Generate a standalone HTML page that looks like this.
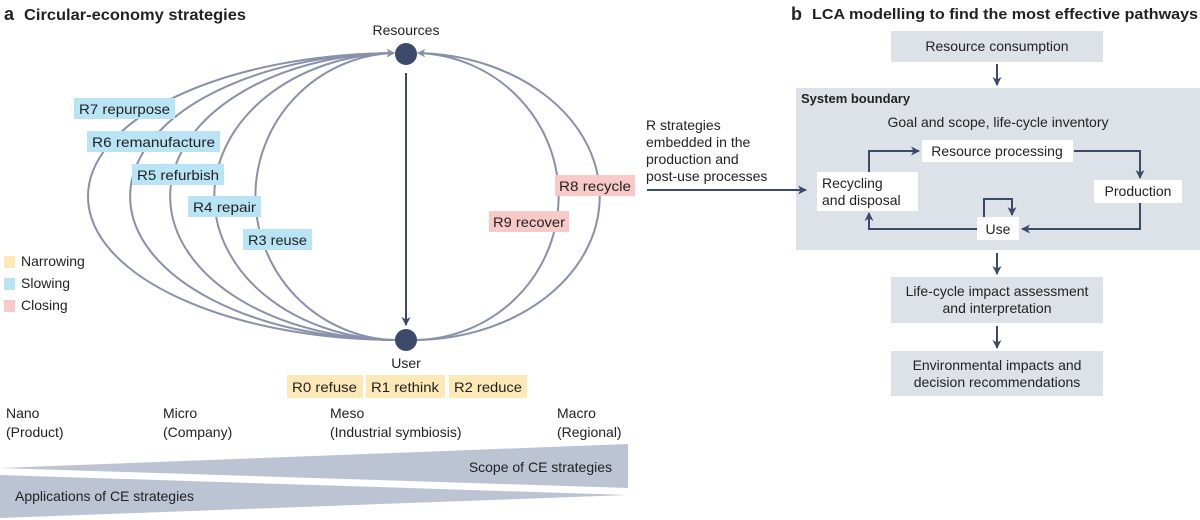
<!DOCTYPE html>
<html><head><meta charset="utf-8"><style>
body{margin:0;background:#fff;}
svg{display:block;font-family:"Liberation Sans",sans-serif;}
</style></head><body>
<svg width="1200" height="520" viewBox="0 0 1200 520" xmlns="http://www.w3.org/2000/svg">
<defs>
<marker id="ag" markerWidth="8" markerHeight="8" refX="7" refY="4" orient="auto" markerUnits="userSpaceOnUse"><path d="M0,0 L8,4 L0,8 L2,4z" fill="#8890aa"/></marker>
<marker id="ad" markerWidth="9" markerHeight="9" refX="8" refY="4.5" orient="auto" markerUnits="userSpaceOnUse"><path d="M0,0 L9,4.5 L0,9 L2.5,4.5z" fill="#3b4a6b"/></marker>
</defs>
<text x="4" y="20" font-size="18" font-weight="bold" fill="#222">a</text>
<text x="24" y="20" font-size="16" font-weight="bold" fill="#222" textLength="222" lengthAdjust="spacingAndGlyphs">Circular-economy strategies</text>
<g fill="none" stroke="#8890aa" stroke-width="2">
<path d="M404,340 A310,143 0 0 1 394,53" marker-end="url(#ag)"/>
<path d="M404,340 A268,143 0 0 1 394,53" marker-end="url(#ag)"/>
<path d="M404,340 A228,143 0 0 1 394,53" marker-end="url(#ag)"/>
<path d="M404,340 A184,143 0 0 1 394,53" marker-end="url(#ag)"/>
<path d="M404,340 A143,143 0 0 1 394,53" marker-end="url(#ag)"/>
<path d="M408,340 A145,143 0 0 0 418,53" marker-end="url(#ag)"/>
<path d="M408,340 A186,143 0 0 0 418,53" marker-end="url(#ag)"/>
</g>
<line x1="406" y1="73" x2="406" y2="325" stroke="#3b4a6b" stroke-width="2" marker-end="url(#ad)"/>
<circle cx="406" cy="54" r="11" fill="#3b4a6b"/>
<circle cx="406" cy="340" r="11" fill="#3b4a6b"/>
<text x="406" y="35" font-size="14" text-anchor="middle" fill="#222">Resources</text>
<text x="406" y="368" font-size="14" text-anchor="middle" fill="#222">User</text>
<g font-size="14" fill="#222">
<rect x="74" y="98" width="101" height="21" fill="#b8e4f5"/><text x="79" y="114" textLength="91" lengthAdjust="spacingAndGlyphs">R7 repurpose</text>
<rect x="87" y="131" width="133" height="21" fill="#b8e4f5"/><text x="92" y="147" textLength="123" lengthAdjust="spacingAndGlyphs">R6 remanufacture</text>
<rect x="132" y="164" width="92" height="21" fill="#b8e4f5"/><text x="137" y="180" textLength="82" lengthAdjust="spacingAndGlyphs">R5 refurbish</text>
<rect x="188" y="196" width="73" height="21" fill="#b8e4f5"/><text x="193" y="212" textLength="63" lengthAdjust="spacingAndGlyphs">R4 repair</text>
<rect x="243" y="229" width="69" height="21" fill="#b8e4f5"/><text x="248" y="245" textLength="59" lengthAdjust="spacingAndGlyphs">R3 reuse</text>
<rect x="555" y="175" width="80" height="21" fill="#f7c9c7"/><text x="559" y="191" textLength="72" lengthAdjust="spacingAndGlyphs">R8 recycle</text>
<rect x="489" y="211" width="80" height="21" fill="#f7c9c7"/><text x="493" y="227" textLength="72" lengthAdjust="spacingAndGlyphs">R9 recover</text>
<rect x="4" y="256" width="11" height="12" fill="#fde9b7"/><text x="21" y="266">Narrowing</text>
<rect x="4" y="278" width="11" height="12" fill="#b8e4f5"/><text x="21" y="288">Slowing</text>
<rect x="4" y="300" width="11" height="12" fill="#f7c9c7"/><text x="21" y="310">Closing</text>
<rect x="287" y="375" width="76" height="23" fill="#fde9b7"/><text x="292" y="392" textLength="65" lengthAdjust="spacingAndGlyphs">R0 refuse</text>
<rect x="366" y="375" width="79" height="23" fill="#fde9b7"/><text x="371" y="392" textLength="68" lengthAdjust="spacingAndGlyphs">R1 rethink</text>
<rect x="449" y="375" width="78" height="23" fill="#fde9b7"/><text x="454" y="392" textLength="68" lengthAdjust="spacingAndGlyphs">R2 reduce</text>
<text x="6" y="418">Nano</text><text x="6" y="437">(Product)</text>
<text x="163" y="418">Micro</text><text x="163" y="437">(Company)</text>
<text x="330" y="418">Meso</text><text x="330" y="437">(Industrial symbiosis)</text>
<text x="557" y="418">Macro</text><text x="557" y="437">(Regional)</text>
</g>
<polygon points="0,468 628,444 628,488" fill="#bcc3d3"/>
<polygon points="0,475 628,495 0,518" fill="#bcc3d3"/>
<text x="612" y="472" font-size="14" text-anchor="end" fill="#222">Scope of CE strategies</text>
<text x="15" y="501" font-size="14" fill="#222">Applications of CE strategies</text>
<text x="791" y="20" font-size="18" font-weight="bold" fill="#222">b</text>
<text x="812" y="19" font-size="15" font-weight="bold" fill="#222" textLength="386" lengthAdjust="spacingAndGlyphs">LCA modelling to find the most effective pathways</text>
<g font-size="14" fill="#222">
<rect x="891" y="31" width="212" height="31" fill="#dde1e8"/><text x="997" y="51" text-anchor="middle">Resource consumption</text>
<rect x="796" y="88" width="404" height="162" fill="#dde1e8"/>
<text x="801" y="103" font-weight="bold" font-size="13">System boundary</text>
<text x="998" y="127" text-anchor="middle">Goal and scope, life-cycle inventory</text>
<rect x="922" y="140" width="151" height="22" fill="#fff"/><text x="997" y="156" text-anchor="middle">Resource processing</text>
<rect x="817" y="172" width="101" height="39" fill="#fff"/><text x="822" y="188">Recycling</text><text x="822" y="205">and disposal</text>
<rect x="1094" y="180" width="88" height="23" fill="#fff"/><text x="1138" y="196" text-anchor="middle">Production</text>
<rect x="977" y="217" width="42" height="23" fill="#fff"/><text x="998" y="234" text-anchor="middle">Use</text>
<rect x="891" y="277" width="212" height="46" fill="#dde1e8"/><text x="997" y="296" text-anchor="middle">Life-cycle impact assessment</text><text x="997" y="313" text-anchor="middle">and interpretation</text>
<rect x="891" y="351" width="212" height="45" fill="#dde1e8"/><text x="997" y="370" text-anchor="middle">Environmental impacts and</text><text x="997" y="387" text-anchor="middle">decision recommendations</text>
<text x="646" y="130">R strategies</text><text x="646" y="147">embedded in the</text><text x="646" y="164">production and</text><text x="646" y="181">post-use processes</text>
</g>
<g fill="none" stroke="#3b4a6b" stroke-width="2">
<line x1="997" y1="64" x2="997" y2="85" marker-end="url(#ad)"/>
<line x1="997" y1="253" x2="997" y2="274" marker-end="url(#ad)"/>
<line x1="997" y1="326" x2="997" y2="348" marker-end="url(#ad)"/>
<line x1="647" y1="190" x2="806" y2="190" marker-end="url(#ad)"/>
<path d="M869,172 V151 H919" marker-end="url(#ad)"/>
<path d="M1074,151 H1140 V178" marker-end="url(#ad)"/>
<path d="M1140,203 V229 H1022" marker-end="url(#ad)"/>
<path d="M977,229 H869 V213" marker-end="url(#ad)"/>
<path d="M984,217 V199 H1012 V215" marker-end="url(#ad)"/>
</g>
</svg>
</body></html>
